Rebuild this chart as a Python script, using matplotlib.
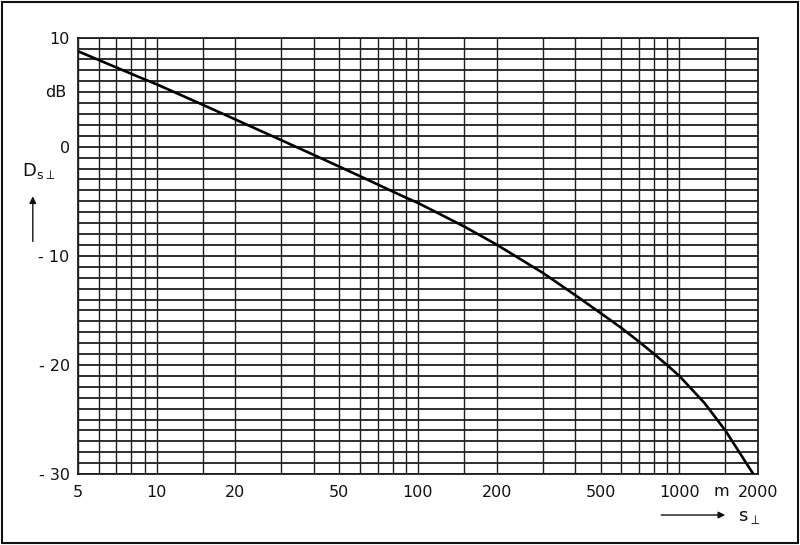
import matplotlib
matplotlib.use("Agg")
import matplotlib.pyplot as plt
from matplotlib.patches import Rectangle, FancyArrowPatch

# data
dist_m = [5, 6, 7, 8, 9, 10, 15, 20, 30, 40, 50, 60, 70, 80, 90, 100,
          150, 200, 300, 400, 500, 600, 700, 800, 900, 1000, 1250, 1500, 1920]
atten_db = [8.75, 7.95, 7.27, 6.68, 6.17, 5.72, 3.85, 2.5, 0.6, -0.76, -1.82,
            -2.7, -3.45, -4.1, -4.67, -5.15, -7.3, -8.97, -11.55, -13.6,
            -15.25, -16.6, -17.85, -18.98, -20.03, -21.0, -23.5, -26.0, -30.0]

x_grid = [5, 6, 7, 8, 9, 10, 15, 20, 30, 40, 50, 60, 70, 80, 90, 100, 150,
          200, 300, 400, 500, 600, 700, 800, 900, 1000, 1500, 2000]
x_ticks = [5, 10, 20, 50, 100, 200, 500, 1000, 2000]
x_ticklabels = ["5", "10", "20", "50", "100", "200", "500", "1000", "2000"]
y_ticks = [10, 0, -10, -20, -30]
y_ticklabels = ["10", "0", "- 10", "- 20", "- 30"]

fig = plt.figure(figsize=(8.0, 5.45), dpi=100)
ax = fig.add_axes([0.0975, 0.130, 0.85, 0.801])
ax.set_xscale("log")
ax.set_xlim(5, 2000)
ax.set_ylim(-30, 10)

gc = "#1e1e1e"
for xv in x_grid:
    ax.axvline(xv, color=gc, lw=1.0, zorder=1)
for yv in range(-30, 11):
    ax.axhline(yv, color=gc, lw=1.3, zorder=1)

ax.plot(dist_m, atten_db, color="black", lw=1.9, zorder=3, solid_capstyle="butt")

for s in ax.spines.values():
    s.set_linewidth(1.3)
    s.set_color(gc)

ax.set_xticks(x_ticks)
ax.set_xticklabels(x_ticklabels)
ax.xaxis.set_minor_locator(matplotlib.ticker.NullLocator())
ax.set_yticks(y_ticks)
ax.set_yticklabels(y_ticklabels)
ax.tick_params(axis="both", length=0, labelsize=11.5, colors="#111111", pad=6)
ax.tick_params(axis="x", pad=8)

# unit labels
ax.text(-0.0165, 0.875, "dB", transform=ax.transAxes, ha="right", va="center",
        fontsize=11.5, color="#111111")
ax.text(1450, -0.04, "m", transform=ax.get_xaxis_transform(), ha="center",
        va="center", fontsize=11.5, color="#111111")

# y-axis quantity with arrow
fig.text(0.027, 0.686, r"$\mathrm{D}_{\mathrm{s}\perp}$", fontsize=13,
         ha="left", va="center", color="#111111")
fig.patches.append(FancyArrowPatch((0.041, 0.552), (0.041, 0.645),
                                   transform=fig.transFigure, arrowstyle="-|>",
                                   mutation_scale=10, lw=1.0, color="#111111"))

# x-axis quantity with arrow
fig.patches.append(FancyArrowPatch((0.823, 0.055), (0.910, 0.055),
                                   transform=fig.transFigure, arrowstyle="-|>",
                                   mutation_scale=10, lw=1.0, color="#111111"))
fig.text(0.922, 0.052, r"$\mathrm{s}_{\perp}$", fontsize=13,
         ha="left", va="center", color="#111111")

# outer frame of the picture
fig.patches.append(Rectangle((0.002, 0.003), 0.996, 0.994, transform=fig.transFigure,
                             fill=False, lw=1.5, edgecolor="#111111"))

fig.savefig("out.png", dpi=100)
